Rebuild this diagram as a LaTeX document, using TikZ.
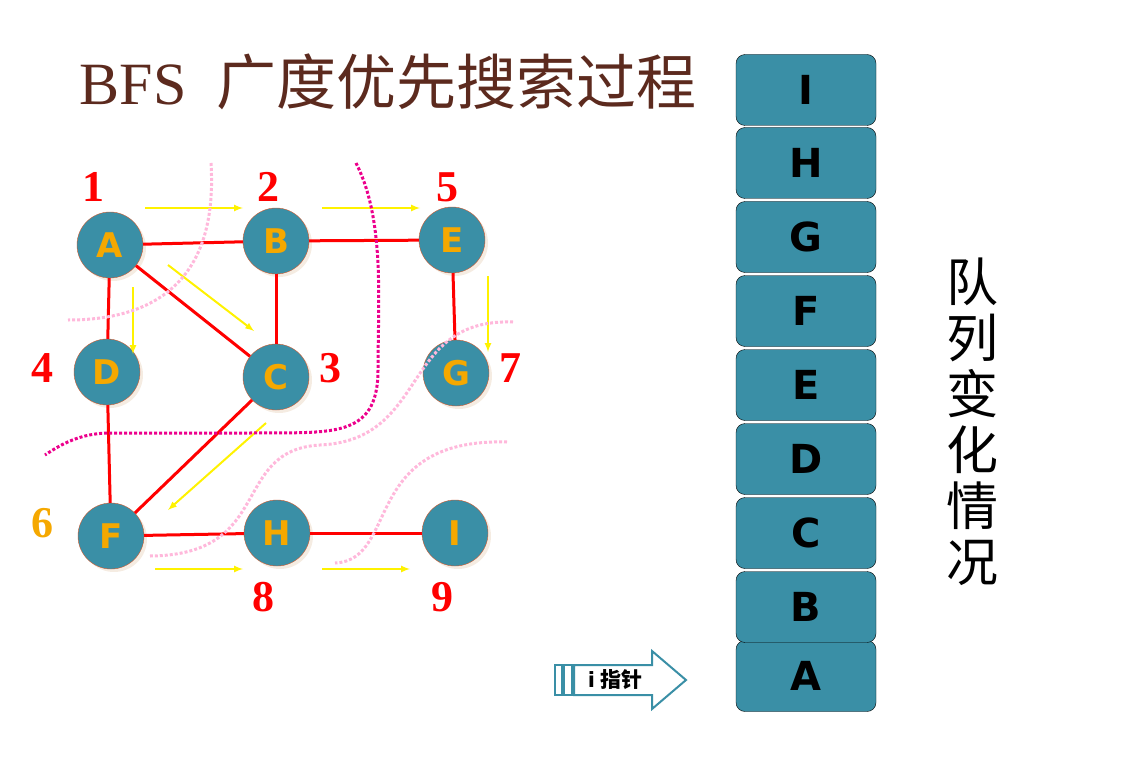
\documentclass[tikz,border=0pt]{standalone}
\usepackage{fontspec}
\setmainfont{Liberation Serif}
\setsansfont{DejaVu Sans}
\newfontfamily\cjk{Noto Sans CJK SC}
\usetikzlibrary{shadows}
\definecolor{teal}{HTML}{3A8FA6}
\definecolor{brownT}{HTML}{5C2A1E}
\definecolor{orangeL}{HTML}{F5A800}
\tikzset{
  vtx/.style={draw=brown!70!red, circle, fill=teal, minimum size=66pt, inner sep=0pt,
    font=\sffamily\bfseries\fontsize{34}{34}\selectfont, text=orangeL,
    drop shadow={shadow xshift=3pt, shadow yshift=-3pt, fill=brown!30}},
  num/.style={font=\bfseries\fontsize{44}{44}\selectfont, text=red},
  qbox/.style={draw=black, rounded corners=9pt, fill=teal, minimum width=140pt, minimum height=71pt,
    font=\sffamily\bfseries\fontsize{40}{40}\selectfont},
  edge/.style={draw=red, line width=3pt},
  visit/.style={draw=yellow, line width=2pt, -latex},
  cut/.style={draw=pink!80!magenta!70, line width=3pt, dotted},
}
\begin{document}
\begin{tikzpicture}[x=1pt,y=-1pt]
\useasboundingbox (0,0) rectangle (1129,762);
% title
\node[text=brownT, font=\fontsize{60}{60}\selectfont] (title) at (388,82) {BFS\ \ {\cjk 广度优先搜索过程}};
% graph
\node[vtx] (A) at (110,245) {A};
\node[vtx] (B) at (276,241) {B};
\node[vtx] (E) at (452,240) {E};
\node[vtx] (D) at (107,372) {D};
\node[vtx] (C) at (276,377) {C};
\node[vtx] (G) at (456,373) {G};
\node[vtx] (F) at (111,536) {F};
\node[vtx] (H) at (277,533) {H};
\node[vtx] (I) at (455,533) {I};
\foreach \u/\v in {A/B,B/E,A/D,A/C,B/C,E/G,D/F,C/F,F/H,H/I}
  \path[edge] (\u) -- (\v);
% visit order
\node[num] (n1) at (93,187) {1};
\node[num] (n2) at (268,187) {2};
\node[num] (n5) at (447,187) {5};
\node[num] (n4) at (42,368) {4};
\node[num] (n3) at (330,368) {3};
\node[num] (n7) at (510,368) {7};
\node[num, text=orangeL] (n6) at (42,523) {6};
\node[num] (n8) at (263,597) {8};
\node[num] (n9) at (442,597) {9};
% search direction
\draw[visit] (145,208) -- (243,208);
\draw[visit] (322,208) -- (420,208);
\draw[visit] (133,287) -- (133,354);
\draw[visit] (168,265) -- (254,331);
\draw[visit] (488,276) -- (488,352);
\draw[visit] (266,423) -- (168,510);
\draw[visit] (155,569) -- (243,569);
\draw[visit] (322,569) -- (410,569);
% layers
\draw[cut] (211,163) .. controls (215,230) and (200,320) .. (68,320);
\draw[cut] (513,322) .. controls (400,318) and (430,440) .. (320,445)
  .. controls (230,450) and (275,555) .. (150,556);
\draw[cut] (507,442) .. controls (360,438) and (400,560) .. (335,563);
\draw[magenta, line width=3pt, dotted] (356,163) .. controls (385,220) and (378,300) .. (378,370)
  .. controls (378,440) and (330,432) .. (250,433) -- (110,433) .. controls (80,433) and (60,445) .. (45,455);
% queue
\foreach \l/\y in {A/676,B/607,C/533,D/459,E/385,F/311,G/237,H/163,I/90}
  \node[qbox] (q\l) at (806,\y) {\l};
\node[font=\cjk\fontsize{52}{56}\selectfont, align=center] (qlabel) at (972,422) {队\\列\\变\\化\\情\\况};
% pointer
\draw[teal, line width=2pt, fill=white] (574,665) -- (652,665) -- (652,651) -- (686,680) -- (652,709) -- (652,695) -- (574,695) -- cycle;
\draw[teal, line width=2pt] (555,665) rectangle (562,695) (564,665) rectangle (572,695);
\node[font=\fontsize{21}{21}\selectfont] (ptr) at (615,680) {\textsf{\textbf{i}} {\cjk\bfseries 指针}};
\end{tikzpicture}
\end{document}
